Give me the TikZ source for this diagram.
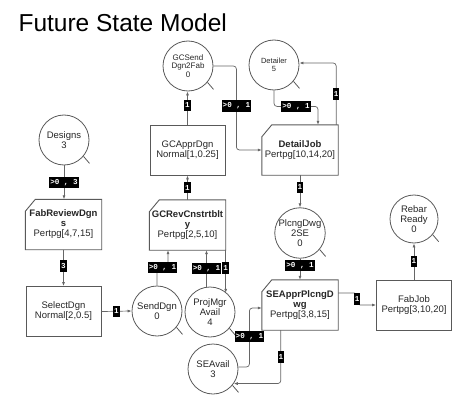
\documentclass[tikz,border=0pt]{standalone}
\usepackage{fontspec}
\setmainfont{Liberation Sans}
\setmonofont{Liberation Mono}
\usetikzlibrary{arrows.meta,calc}
\begin{document}
\begin{tikzpicture}[x=1pt,y=-1pt,
  every node/.style={font=\fontsize{9.5}{10}\selectfont, text=black!85},
  queue/.style={circle, draw=black!65, line width=0.8pt, minimum size=50pt, inner sep=0pt, align=center},
  act/.style={rectangle, draw=black!65, line width=0.9pt, minimum width=75pt, minimum height=50pt, inner sep=1pt, align=center},
  combi/.style={rectangle, minimum width=76pt, minimum height=50pt, inner sep=1pt, align=center},
  boxline/.style={draw=black!65, line width=0.9pt},
  lbl/.style={sharp corners, fill=black, text=white, font=\fontsize{7.6}{8}\ttfamily\bfseries, inner xsep=1pt, inner ysep=1.5pt, minimum height=11.5pt},
  link/.style={draw=black!60, line width=0.7pt, rounded corners=3pt, -{Latex[length=4pt,width=3pt]}},
  tail/.style={draw=black!65, line width=0.8pt}
]
\path[use as bounding box] (0,0) rectangle (474,412);

\node[anchor=base west, font=\fontsize{24.5}{28}\selectfont, text=black] (title) at (15,32) {Future State Model};

% queues
\node[queue, font=\fontsize{8}{8.5}\selectfont] (gcsend) at (188,66) {GCSend\\Dgn2Fab\\0};
\node[queue, font=\fontsize{7.5}{8}\selectfont] (detailer) at (274,65) {Detailer\\5};
\node[queue] (designs) at (64,140) {Designs\\3};
\node[queue] (plc) at (300,233) {PlcngDwg\\2SE\\0};
\node[queue, minimum size=48pt] (rebar) at (414,219) {Rebar\\Ready\\0};
\node[queue] (send) at (157,311) {SendDgn\\0};
\node[queue] (pm) at (210,312) {ProjMgr\\Avail\\4};
\node[queue] (sea) at (213,369) {SEAvail\\3};

% activities
\node[act] (gcappr) at (187.5,150) {GCApprDgn\\Normal[1,0.25]};
\node[combi] (detail) at (300,150) {\textbf{DetailJob}\\Pertpg[10,14,20]};
\node[combi] (fabrev) at (63.5,224.5) {\textbf{FabReviewDgn}\\\textbf{s}\\Pertpg[4,7,15]};
\node[combi] (gcrev) at (187.5,225) {\textbf{GCRevCnstrtblt}\\\textbf{y}\\Pertpg[2,5,10]};
\node[act] (select) at (63.5,311.5) {SelectDgn\\Normal[2,0.5]};
\node[combi] (seappr) at (300,305) {\textbf{SEApprPlcngD}\\\textbf{wg}\\Pertpg[3,8,15]};
\node[act] (fabjob) at (414,305) {FabJob\\Pertpg[3,10,20]};

% cut-corner outlines
\foreach \n in {detail,fabrev,gcrev,seappr}
  \draw[boxline] ($(\n.north west)+(10,0)$) -- (\n.north east) -- (\n.south east) -- (\n.south west) -- ($(\n.north west)+(0,12)$) -- cycle;

% queue tails
\foreach \n in {gcsend,detailer,designs,plc,rebar,send,pm,sea}
  \draw[tail] (\n.-40) -- ++(6,7);

% connectors
\draw[link] (designs.south) -- (designs.south |- fabrev.north) node[lbl,midway]{>0 , 3};
\draw[link] (fabrev.south) -- (fabrev.south |- select.north) node[lbl,pos=0.45]{3};
\draw[link] (select.east) -- (send.west) node[lbl,midway]{1};
\draw[link] (send.north) -- ++(0,-18) -| node[lbl,pos=0.25]{>0 , 1} ($(gcrev.south)+(-19.5,0)$);
\draw[link] ($(pm.north)+(-3.5,0)$) -- ($(gcrev.south)+(19,0)$) node[lbl,midway]{>0 , 1};
\draw[link] (gcrev.south east) -- (gcrev.south east |- pm.49) node[lbl,pos=0.42]{1};
\draw[link] (gcrev.north) -- (gcappr.south) node[lbl,midway]{1};
\draw[link] (gcappr.north) -- (gcappr.north |- gcsend.south) node[lbl,pos=0.58]{1};
\draw[link] (gcsend.east) -- ++(23,0) -- ++(0,40) node[lbl]{>0 , 1} |- (detail.west);
\draw[link] (detailer.south) -- ++(0,16) -| node[lbl,pos=0.25]{>0 , 1} ($(detail.north)+(18,0)$);
\draw[link] ($(detail.north east)+(-2,0)$) |- node[lbl,pos=0.25]{1} ($(detailer.east)+(0,-2)$);
\draw[link] (detail.south) -- (plc.north) node[lbl,pos=0.38]{1};
\draw[link] (plc.south) -- (seappr.north) node[lbl,pos=0.32]{>0 , 1};
\draw[link] ($(seappr.east)+(0,-12)$) -- ++(19,0) -- ++(0,12) node[lbl,pos=0.5]{1} -- (fabjob.west);
\draw[link] (fabjob.north) -- (rebar.south) node[lbl,midway]{1};
\draw[link] ($(sea.east)+(0,-2)$) -- ++(11,0) |- node[lbl,pos=0.26]{>0 , 1} ($(seappr.west)+(0,3)$);
\draw[link] ($(seappr.south west)+(19,0)$) |- node[lbl,pos=0.25]{1} (sea.-35);
\end{tikzpicture}
\end{document}
